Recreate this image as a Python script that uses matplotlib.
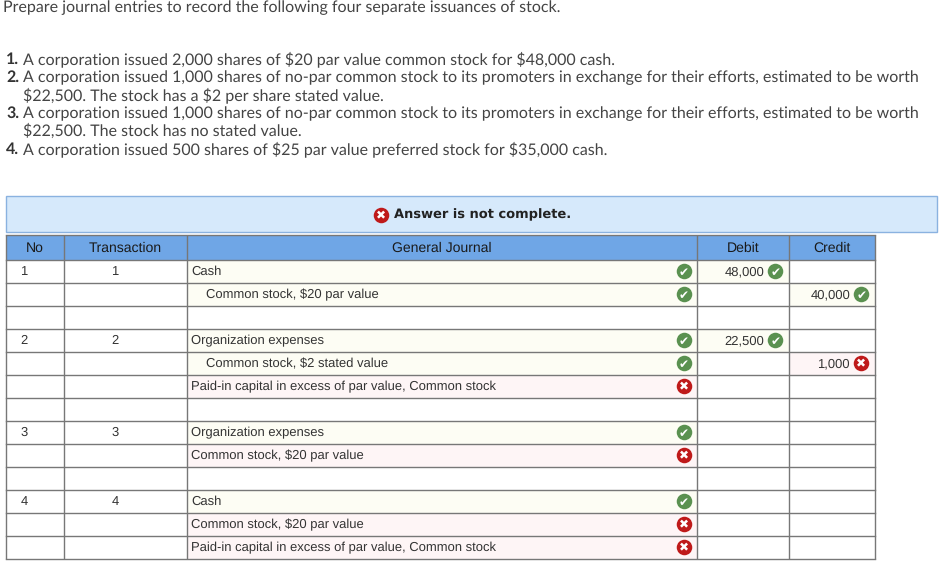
import matplotlib
matplotlib.use("Agg")
import matplotlib.pyplot as plt
from matplotlib.patches import Rectangle

plt.rcParams["text.hinting"] = "no_hinting"
plt.rcParams["text.hinting_factor"] = 1

title = "Prepare journal entries to record the following four separate issuances of stock."
problem_lines = [
    ("1.", "A corporation issued 2,000 shares of $20 par value common stock for $48,000 cash."),
    ("2.", "A corporation issued 1,000 shares of no-par common stock to its promoters in exchange for their efforts, estimated to be worth"),
    ("", "$22,500. The stock has a $2 per share stated value."),
    ("3.", "A corporation issued 1,000 shares of no-par common stock to its promoters in exchange for their efforts, estimated to be worth"),
    ("", "$22,500. The stock has no stated value."),
    ("4.", "A corporation issued 500 shares of $25 par value preferred stock for $35,000 cash."),
]
banner = "Answer is not complete."
headers = ["No", "Transaction", "General Journal", "Debit", "Credit"]
col_no = ["1", "", "", "2", "", "", "", "3", "", "", "4", "", ""]
col_tr = ["1", "", "", "2", "", "", "", "3", "", "", "4", "", ""]
col_acct = ["Cash", "Common stock, $20 par value", "",
            "Organization expenses", "Common stock, $2 stated value",
            "Paid-in capital in excess of par value, Common stock", "",
            "Organization expenses", "Common stock, $20 par value", "",
            "Cash", "Common stock, $20 par value",
            "Paid-in capital in excess of par value, Common stock"]
indented = [0, 1, 0, 0, 1, 0, 0, 0, 0, 0, 0, 0, 0]
acct_ok = [1, 1, None, 1, 1, 0, None, 1, 0, None, 1, 0, 0]
debit = ["48,000", "", "", "22,500", "", "", "", "", "", "", "", "", ""]
debit_ok = [1, None, None, 1, None, None, None, None, None, None, None, None, None]
credit = ["", "40,000", "", "", "1,000", "", "", "", "", "", "", "", ""]
credit_ok = [None, 1, None, None, 0, None, None, None, None, None, None, None, None]

FONT = "Liberation Sans"
BODY = "Lato"
GREEN, RED = "#5a9150", "#bf1a1a"
LINE = "#777777"
TXT = "#333333"
OK_BG, BAD_BG = "#fdfdf4", "#fef5f6"

fig = plt.figure(figsize=(9.49, 5.71), dpi=100)
ax = fig.add_axes([0, 0, 1, 1])
ax.set_xlim(0, 949)
ax.set_ylim(571, 0)
ax.axis("off")

def put(x, y, s, **kw):
    kw.setdefault("va", "center")
    ax.text(x, y, s, parse_math=False, **kw)

def icon(x, y, ok):
    ax.scatter([x], [y], s=125, color=GREEN if ok else RED, linewidths=0, zorder=4)
    put(x, y, "\u2714" if ok else "\u2716", color="white", fontsize=8.5,
        family="DejaVu Sans", ha="center", va="center_baseline", zorder=5)

put(3, 12, title, fontsize=11.3, family=BODY, color="#444444", va="baseline")

baselines = [64, 82, 100, 118, 136, 154]
for y, (num, line) in zip(baselines, problem_lines):
    if num:
        put(6, y, num, fontsize=11.3, family=BODY, weight="bold", color="#333333", va="baseline")
    put(23, y, line, fontsize=11.3, family=BODY, color="#444444", va="baseline")

ax.add_patch(Rectangle((6, 196), 931, 36, fc="#d6e9fb", ec="#8ab2e0", lw=1))
icon(381, 214.5, False)
put(394, 215, banner, fontsize=9.3, family="DejaVu Sans", weight="bold", color="#222222")

cols = [6, 64, 187, 697, 789, 875]
top, head_bot, row_h = 234.5, 260, 23
n = len(col_acct)
bottom = head_bot + n * row_h

ax.add_patch(Rectangle((cols[0], top), cols[-1] - cols[0], head_bot - top, fc="#6fa6e6", ec="none"))
for i, h in enumerate(headers):
    put((cols[i] + cols[i + 1]) / 2, 248, h, fontsize=10, family=FONT, color="#1a1a1a", ha="center")

for r in range(n):
    y0 = head_bot + r * row_h
    yc = y0 + row_h / 2
    iy = yc - 0.5
    if acct_ok[r] is not None:
        ax.add_patch(Rectangle((cols[2], y0), cols[3] - cols[2], row_h,
                               fc=OK_BG if acct_ok[r] else BAD_BG, ec="none"))
        icon(684, iy, bool(acct_ok[r]))
    if debit_ok[r] is not None:
        ax.add_patch(Rectangle((cols[3], y0), cols[4] - cols[3], row_h,
                               fc=OK_BG if debit_ok[r] else BAD_BG, ec="none"))
        icon(775.5, iy, bool(debit_ok[r]))
    if credit_ok[r] is not None:
        ax.add_patch(Rectangle((cols[4], y0), cols[5] - cols[4], row_h,
                               fc=OK_BG if credit_ok[r] else BAD_BG, ec="none"))
        icon(861.5, iy, bool(credit_ok[r]))
    ty = yc + 0.5
    put(24, ty, col_no[r], fontsize=9.35, family=FONT, color=TXT, ha="center")
    put(115, ty, col_tr[r], fontsize=9.35, family=FONT, color=TXT, ha="center")
    put(206 if indented[r] else 191, ty, col_acct[r], fontsize=9.35, family=FONT, color=TXT)
    put(764, ty, debit[r], fontsize=9.6, family=FONT, color=TXT, ha="right")
    put(850, ty, credit[r], fontsize=9.6, family=FONT, color=TXT, ha="right")

for x in cols:
    ax.plot([x, x], [top, bottom], color=LINE, lw=1, zorder=3, solid_capstyle="butt")
ax.plot([cols[0], cols[-1]], [top, top], color=LINE, lw=1, zorder=3)
for r in range(n + 1):
    y = head_bot + r * row_h
    ax.plot([cols[0], cols[-1]], [y, y], color=LINE, lw=1, zorder=3)

fig.savefig("out.png", dpi=100, facecolor="white")
